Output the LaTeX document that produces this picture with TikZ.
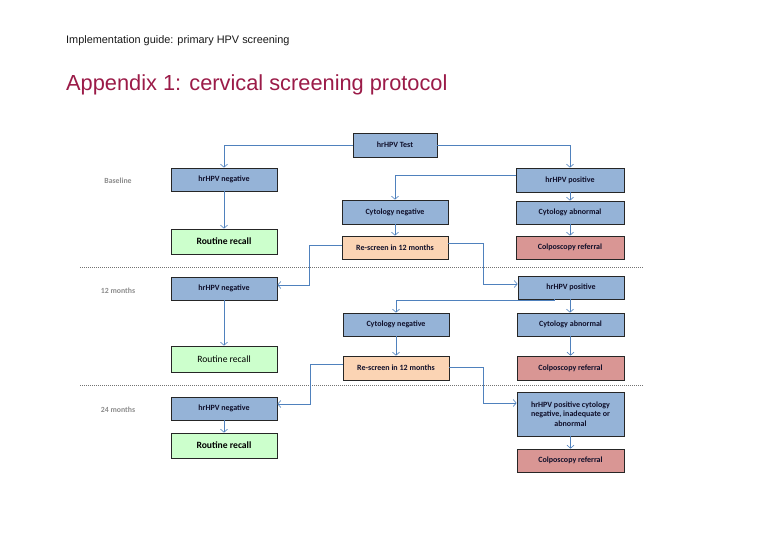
\documentclass[tikz,border=0pt]{standalone}
\usepackage{fontspec}
\setmainfont{Liberation Sans}
\newfontfamily\boxfont{Carlito}
\usetikzlibrary{arrows.meta}
\definecolor{bluebox}{HTML}{95B3D7}
\definecolor{greenbox}{HTML}{CCFFCC}
\definecolor{orangebox}{HTML}{FBD4B4}
\definecolor{redbox}{HTML}{D99694}
\definecolor{conn}{HTML}{4F81BD}
\definecolor{titlered}{HTML}{9B1B48}
\definecolor{txtdark}{HTML}{0F0F2A}
\tikzset{
  box/.style={draw=black!85, line width=0.8pt, inner sep=1pt, align=center,
    font=\boxfont\bfseries\fontsize{8}{9.5}\selectfont, text=txtdark},
  bluenode/.style={box, fill=bluebox},
  greennode/.style={box, fill=greenbox, font=\boxfont\bfseries\fontsize{9.6}{11}\selectfont, text=black},
  orangenode/.style={box, fill=orangebox},
  rednode/.style={box, fill=redbox},
  arr/.style={draw=conn, line width=0.8pt, -{Straight Barb[length=3pt,width=7pt,line width=0.6pt]}},
  sep/.style={draw=black!55, line width=0.5pt, dash pattern=on 1pt off 1pt},
  period/.style={font=\boxfont\bfseries\fontsize{7.8}{9}\selectfont, text=black!45}
}
\begin{document}
\begin{tikzpicture}[x=1pt,y=-1pt]
\useasboundingbox (0,0) rectangle (768,543);
\fill[white] (0,0) rectangle (768,543);

\node[anchor=base west, inner sep=0, font=\fontsize{10.9}{13}\selectfont, text=black!90] (hdr) at (66,43.5) {Implementation guide: primary HPV screening};
\node[anchor=base west, inner sep=0, font=\fontsize{21.8}{26}\selectfont, text=titlered] (ttl) at (66,90) {Appendix 1: cervical screening protocol};

% period labels
\node[period] (lb0) at (118,181) {Baseline};
\node[period] (lb1) at (118,291) {12 months};
\node[period] (lb2) at (118,410) {24 months};

% separators
\coordinate (s1a) at (80,267); \coordinate (s1b) at (643,267);
\coordinate (s2a) at (80,385); \coordinate (s2b) at (643,385);
\draw[sep] (s1a) -- (s1b);
\draw[sep] (s2a) -- (s2b);

% Baseline
\node[bluenode, minimum width=84pt, minimum height=24pt] (test) at (395,145) {hrHPV Test};
\node[bluenode, minimum width=106pt, minimum height=23pt] (neg0) at (224,179.5) {hrHPV negative};
\node[bluenode, minimum width=108pt, minimum height=24pt] (pos0) at (570,180) {hrHPV positive};
\node[bluenode, minimum width=106pt, minimum height=24pt] (cn0) at (395,212) {Cytology negative};
\node[bluenode, minimum width=108pt, minimum height=23pt] (ca0) at (570,212.5) {Cytology abnormal};
\node[greennode, minimum width=106pt, minimum height=25pt] (rr0) at (224,241.5) {Routine recall};
\node[orangenode, minimum width=106pt, minimum height=23pt] (rs0) at (395,247.5) {Re-screen in 12 months};
\node[rednode, minimum width=108pt, minimum height=23pt] (cr0) at (570,247.5) {Colposcopy referral};

% 12 months
\node[bluenode, minimum width=106pt, minimum height=23pt] (neg1) at (224,288.5) {hrHPV negative};
\node[bluenode, minimum width=106pt, minimum height=23pt] (pos1) at (571,287.5) {hrHPV positive};
\node[bluenode, minimum width=106pt, minimum height=23pt] (cn1) at (396,324.5) {Cytology negative};
\node[bluenode, minimum width=107pt, minimum height=23pt] (ca1) at (570.5,324.5) {Cytology abnormal};
\node[greennode, minimum width=106pt, minimum height=26pt, font=\boxfont\fontsize{9.6}{11}\selectfont] (rr1) at (224,359) {Routine recall};
\node[orangenode, minimum width=106pt, minimum height=24pt] (rs1) at (396,368) {Re-screen in 12 months};
\node[rednode, minimum width=107pt, minimum height=24pt] (cr1) at (570.5,368) {Colposcopy referral};

% 24 months
\node[bluenode, minimum width=106pt, minimum height=23pt] (neg2) at (224,408.5) {hrHPV negative};
\node[bluenode, minimum width=107pt, minimum height=44pt] (pos2) at (570.5,414) {hrHPV positive cytology\\negative, inadequate or\\abnormal};
\node[greennode, minimum width=106pt, minimum height=25pt] (rr2) at (224,445.5) {Routine recall};
\node[rednode, minimum width=107pt, minimum height=23pt] (cr2) at (570.5,460.5) {Colposcopy referral};

% connectors baseline
\draw[arr] (test.west) -| (neg0.north);
\draw[arr] (test.east) -| (pos0.north);
\draw[arr] (pos0.west |- 0,175) -| (cn0.north);
\draw[arr] (pos0.south) -- (ca0.north);
\draw[arr] (ca0.south) -- (cr0.north);
\draw[arr] (cn0.south) -- (rs0.north);
\draw[arr] (neg0.south) -- (rr0.north);
\draw[arr] (rs0.west |- 0,245) -- (309,245) |- (neg1.east |- 0,285);
\draw[arr] (rs0.east |- 0,243) -- (483,243) |- (pos1.west |- 0,284);

% connectors 12 months
\draw[arr] (pos1.south -| 554,0) -- (554,300) -| (cn1.north);
\draw[arr] (pos1.south -| 570,0) -- (ca1.north -| 570,0);
\draw[arr] (cn1.south) -- (rs1.north);
\draw[arr] (ca1.south) -- (cr1.north);
\draw[arr] (neg1.south) -- (rr1.north);
\draw[arr] (rs1.west |- 0,364) -- (310,364) |- (neg2.east |- 0,404);
\draw[arr] (rs1.east |- 0,367) -- (483,367) |- (pos2.west |- 0,403);

% connectors 24 months
\draw[arr] (neg2.south) -- (rr2.north);
\draw[arr] (pos2.south) -- (cr2.north);
\end{tikzpicture}
\end{document}
